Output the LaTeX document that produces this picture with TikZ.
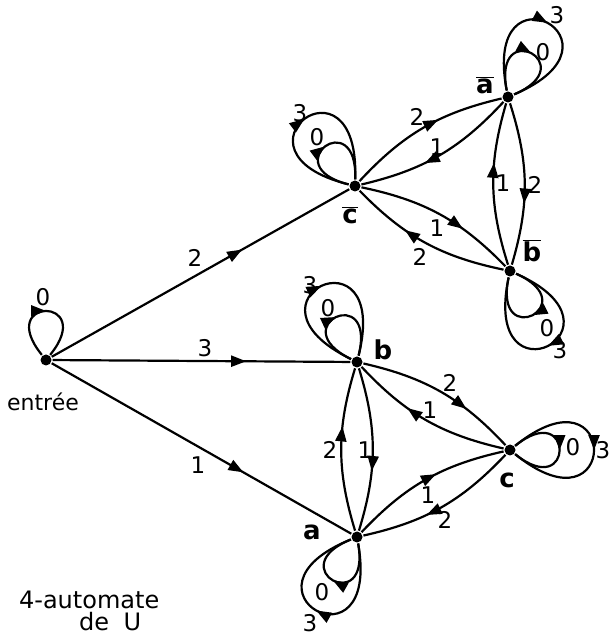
\documentclass[tikz,border=0pt]{standalone}
\usepackage{fontspec}
\setmainfont{DejaVu Sans}
\usetikzlibrary{arrows.meta,decorations.markings,calc}
\newcommand\ovl[1]{\ensuremath{\overline{\mbox{#1}}}}
\begin{document}
\begin{tikzpicture}[x=1pt,y=1pt,
  line width=2.2pt,
  >={Triangle[length=15pt,width=11pt]},
  state/.style={circle,fill,inner sep=0pt,minimum size=11pt},
  link/.style={draw},
  arrowat/.style={postaction={decorate,decoration={markings,
      mark=at position #1 with {\arrow{>}}}}},
  lbl/.style={font=\fontsize{23}{23}\selectfont,inner sep=0pt},
  sname/.style={font=\fontsize{26}{26}\selectfont\bfseries,inner sep=0pt},
  capt/.style={font=\fontsize{24}{24}\selectfont,anchor=base west,inner sep=0pt},
  lens/.style={bend left=17}]
\useasboundingbox (0,0) rectangle (611,637);

% states
\node[state] (E)  at (46,277)  {};
\node[state] (b)  at (357,275) {};
\node[state] (a)  at (357,100) {};
\node[state] (c)  at (510,187) {};
\node[state] (cb) at (355,451) {};
\node[state] (ab) at (508,540) {};
\node[state] (bb) at (510,366) {};

% state names
\node[font=\fontsize{22}{22}\selectfont,inner sep=0pt] (nE) at (43,235) {entrée};
\node[sname] (nb)  at (383,287) {b};
\node[sname] (na)  at (312,105) {a};
\node[sname] (nc)  at (507,157) {c};
\node[sname] (ncb) at (350,422) {\ovl{c}};
\node[sname] (nab) at (485,552) {\ovl{a}};
\node[sname] (nbb) at (532,386) {\ovl{b}};

% transitions from the entry state
\draw[link,arrowat=0.64] (E) -- (cb);
\draw[link,arrowat=0.65] (E) -- (b);
\draw[link,arrowat=0.64] (E) -- (a);
\node[lbl] (l1) at (195,379) {2};
\node[lbl] (l2) at (205,289) {3};
\node[lbl] (l3) at (198,172) {1};
\draw[link,arrowat=0.5] (E) .. controls ($(E)+(129:82)$) and ($(E)+(51:82)$) .. (E);
\node[lbl] (l4) at (43,340) {0};

% lower triangle
\draw[link,arrowat=0.64] (a) to[lens] (b);
\draw[link,arrowat=0.63] (b) to[lens] (a);
\draw[link,arrowat=0.68] (b) to[lens] (c);
\draw[link,arrowat=0.63] (c) to[lens] (b);
\draw[link,arrowat=0.57] (a) to[lens] (c);
\draw[link,arrowat=0.6]  (c) to[lens] (a);
\node[lbl] (l5)  at (330,187) {2};
\node[lbl] (l6)  at (365,187) {1};
\node[lbl] (l7)  at (450,254) {2};
\node[lbl] (l8)  at (430,227) {1};
\node[lbl] (l9)  at (428,142) {1};
\node[lbl] (l10) at (445,117) {2};

% upper triangle
\draw[link,arrowat=0.6]  (cb) to[lens] (ab);
\draw[link,arrowat=0.6]  (ab) to[lens] (cb);
\draw[link,arrowat=0.66] (cb) to[lens] (bb);
\draw[link,arrowat=0.64] (bb) to[lens] (cb);
\draw[link,arrowat=0.62] (ab) to[lens] (bb);
\draw[link,arrowat=0.63] (bb) to[lens] (ab);
\node[lbl] (l11) at (417,520) {2};
\node[lbl] (l12) at (437,490) {1};
\node[lbl] (l13) at (437,409) {1};
\node[lbl] (l14) at (420,380) {2};
\node[lbl] (l15) at (535,452) {2};
\node[lbl] (l16) at (503,454) {1};

% self loops: inner one labelled 0, outer one labelled 3
\foreach \n/\phi in {c/0, ab/62, bb/-63, cb/127, b/115, a/241}{
  \draw[link,arrowat=0.5] (\n) .. controls ($(\n)+(\phi+39:83)$) and ($(\n)+(\phi-39:83)$) .. (\n);
  \draw[link,arrowat=0.5] (\n) .. controls ($(\n)+(\phi+39:142)$) and ($(\n)+(\phi-39:142)$) .. (\n);
}
\node[lbl] (c0)  at (573,190) {0};
\node[lbl] (c3)  at (603,187) {3};
\node[lbl] (ab0) at (543,585) {0};
\node[lbl] (ab3) at (557,622) {3};
\node[lbl] (bb0) at (547,309) {0};
\node[lbl] (bb3) at (560,287) {3};
\node[lbl] (cb0) at (317,500) {0};
\node[lbl] (cb3) at (300,524) {3};
\node[lbl] (b0)  at (328,329) {0};
\node[lbl] (b3)  at (310,352) {3};
\node[lbl] (a0)  at (322,45)  {0};
\node[lbl] (a3)  at (310,14)  {3};

% caption
\node[capt] (t1) at (18,28) {4-automate};
\node[capt] (t2) at (78,6) {de\hspace{0.6em}U};
\end{tikzpicture}
\end{document}
